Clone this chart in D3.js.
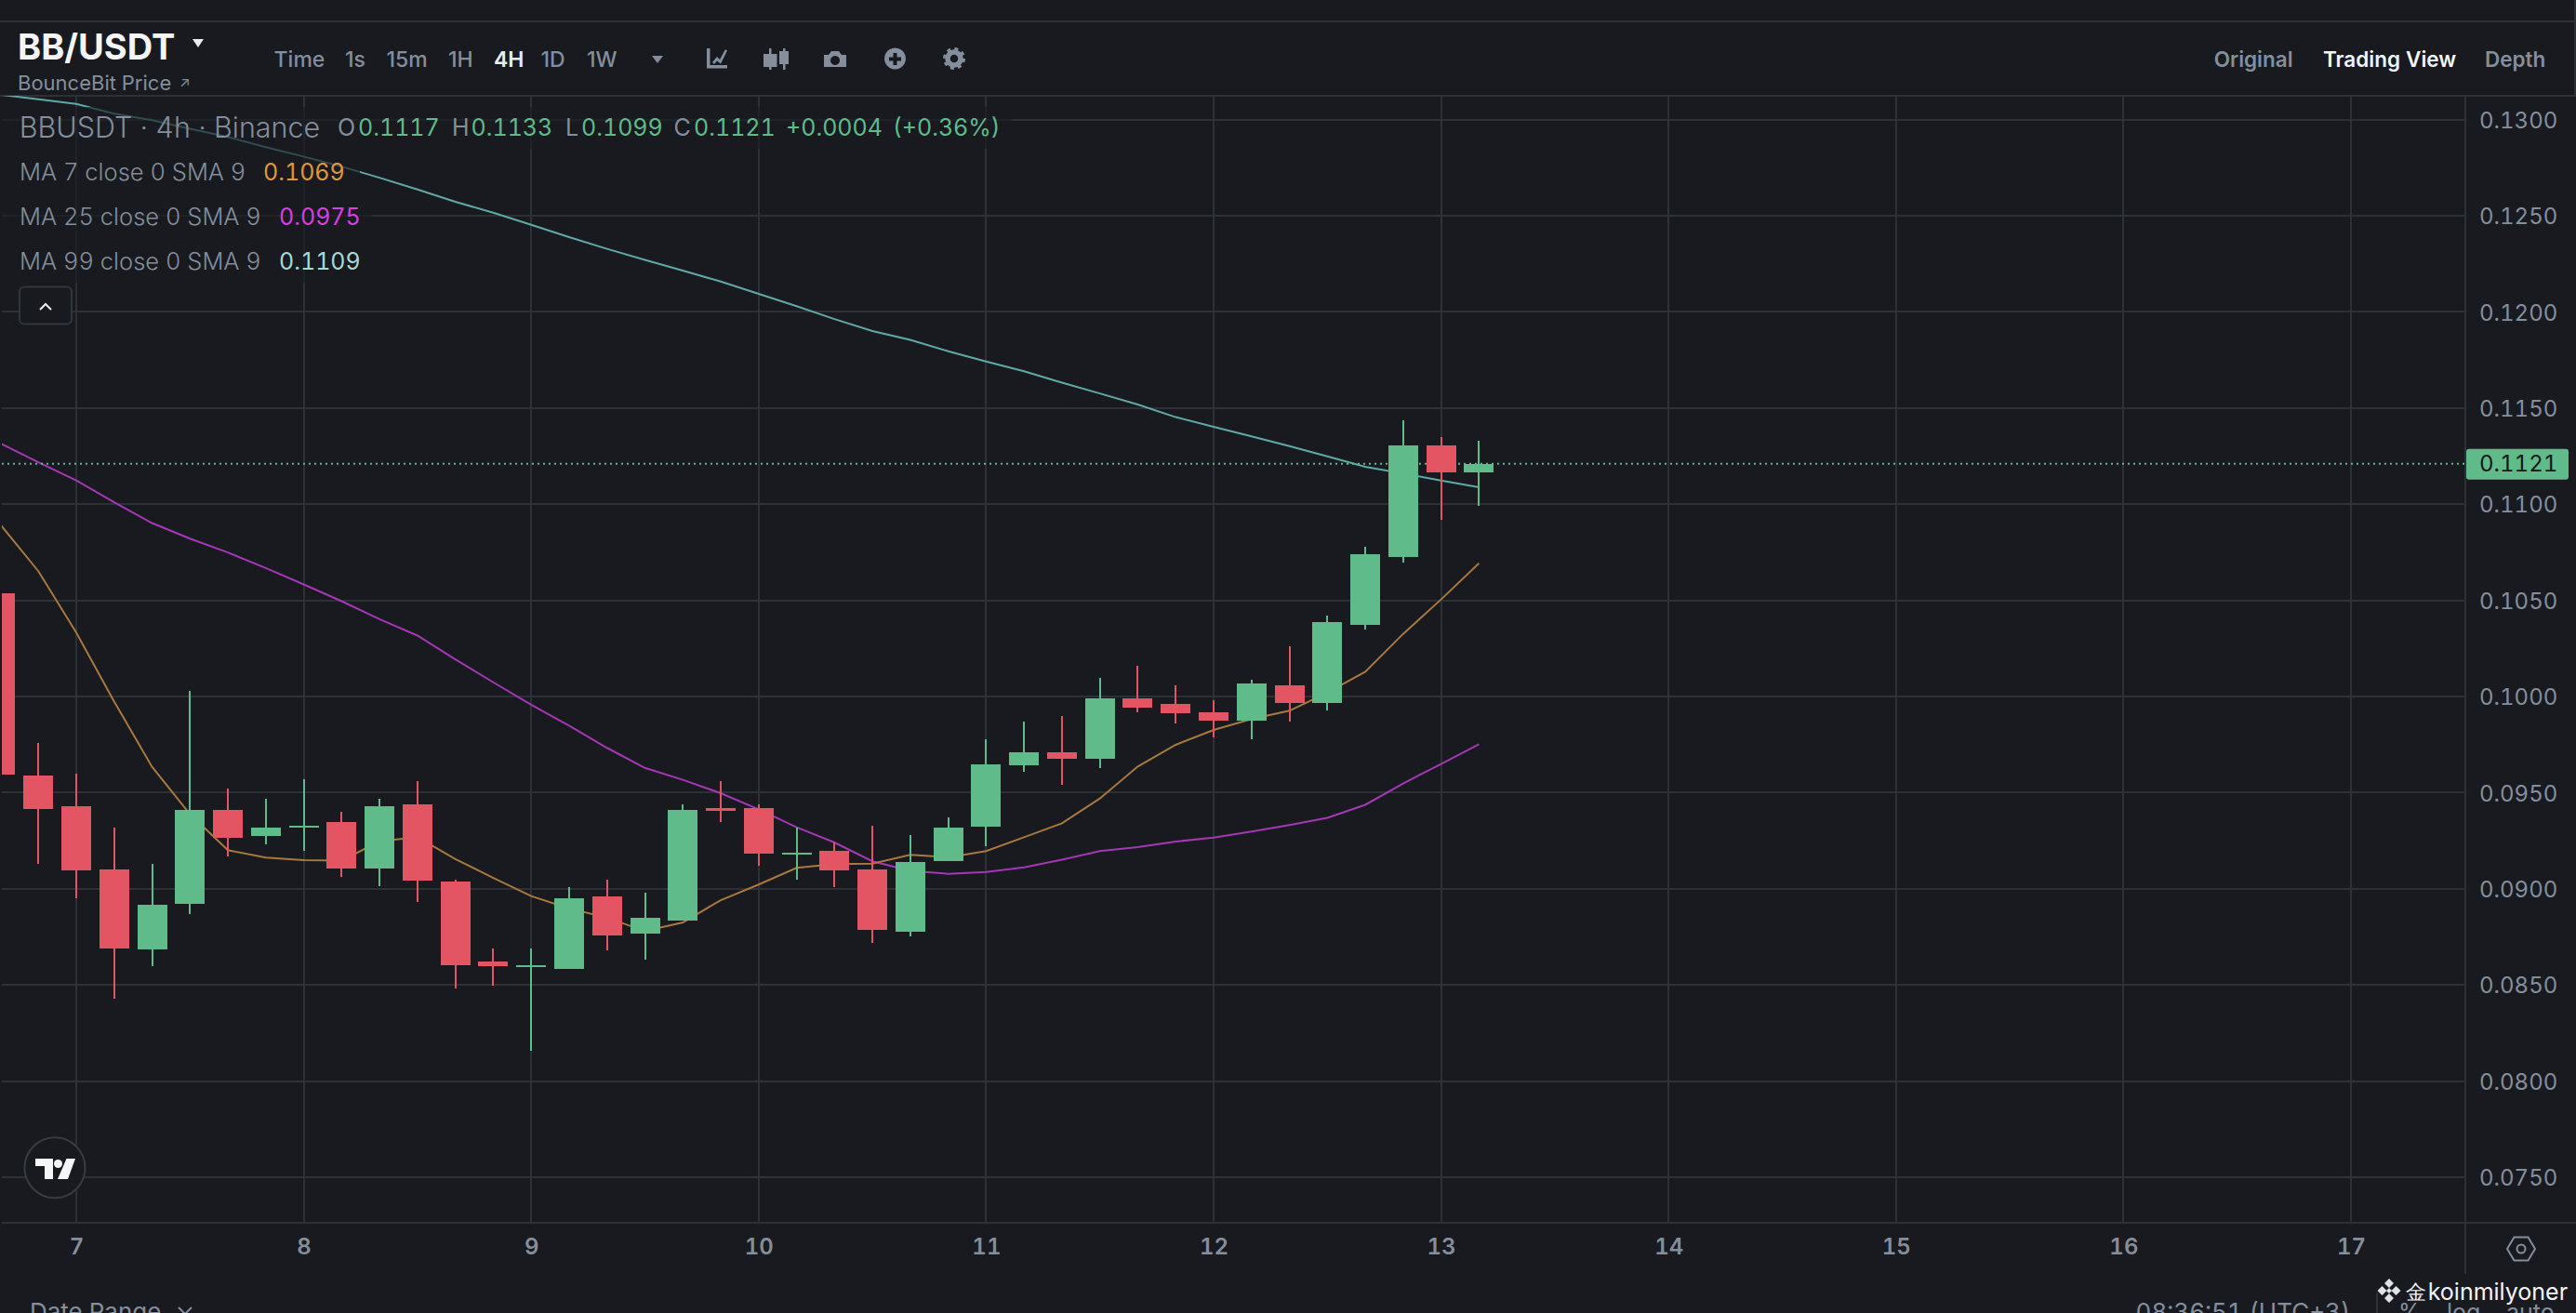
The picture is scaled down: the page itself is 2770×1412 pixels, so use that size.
<!DOCTYPE html>
<html>
<head>
<meta charset="utf-8">
<script src="https://cdn.jsdelivr.net/npm/d3@7/dist/d3.min.js"></script>
<style>
html,body{margin:0;padding:0;background:#181a20;overflow:hidden}
svg{display:block}
text{font-family:Inter,"Noto Sans",sans-serif;font-feature-settings:"tnum" 1;font-variant-numeric:tabular-nums}
text.prop{font-feature-settings:"tnum" 0;font-variant-numeric:normal}
</style>
</head>
<body>
<svg id="c" width="2770" height="1412"></svg>
<script>
// ---- data ----
const opens  = [.10537,.09588,.09429,.09099,.08683,.08924,.09408,.09274,.09325,.09345,.09104,.09439,.09037,.08621,.08598,.08582,.08959,.08766,.08833,.09418,.09418,.09184,.09196,.09099,.08775,.09143,.09322,.09641,.09708,.09675,.09991,.09962,.09918,.09875,.10058,.09967,.10372,.10725,.11305,.11165];
const highs  = [.10537,.09758,.09598,.09317,.09128,.10028,.0952,.09468,.09568,.094,.09468,.09559,.09047,.08688,.08688,.09007,.09046,.08978,.09438,.09558,.09438,.09317,.09239,.09326,.09278,.0937,.09776,.09868,.09897,.10095,.1016,.10058,.09981,.10087,.10262,.10421,.10778,.11436,.11349,.1133];
const lows   = [.09595,.09128,.0895,.08427,.086,.08867,.09167,.0923,.09196,.0906,.09016,.0893,.0848,.08498,.0816,.08582,.08679,.0863,.08833,.09346,.09119,.09046,.09007,.08717,.08751,.09143,.0922,.09607,.09539,.09626,.09918,.0986,.09788,.09778,.0987,.09928,.10348,.10696,.10918,.1099];
const closes = [.09595,.09413,.09094,.08692,.08919,.09408,.09264,.09317,.09329,.09104,.09429,.09042,.08605,.08596,.08602,.08949,.08756,.08848,.09409,.09404,.09181,.09188,.09094,.08785,.09138,.09317,.09646,.09708,.09675,.09989,.09942,.09913,.09875,.10068,.09967,.10387,.10739,.11305,.11165,.1121];
const ma7  = [.10894,.10652,.10333,.09974,.09634,.09388,.09201,.09162,.09149,.09147,.09247,.09269,.09155,.09057,.08962,.08898,.0885,.0878,.08825,.08941,.09022,.09109,.09128,.09131,.09177,.09164,.09196,.09268,.09341,.0947,.09636,.09749,.09826,.09883,.09926,.1002,.10129,.10326,.10505,.10693];
const ma25 = [.11316,.11218,.11124,.1101,.10902,.10821,.10749,.10668,.10583,.10496,.10402,.10317,.10193,.10074,.09957,.09849,.09733,.09629,.09567,.09497,.09413,.0932,.09241,.09143,.09094,.09078,.09088,.09112,.09152,.09196,.09217,.09246,.09266,.09298,.09332,.09369,.09437,.09548,.09649,.09752];
const ma99 = [.1313,.13106,.13082,.13031,.12997,.12953,.1291,.12857,.12808,.12756,.12698,.12637,.12573,.12516,.12453,.12389,.12328,.12271,.12215,.12158,.12094,.1203,.11963,.11901,.11855,.11796,.11742,.11692,.11632,.11576,.11519,.11453,.11403,.11353,.11302,.11249,.11195,.1116,.11123,.11088];
const priceTicks = [.13,.125,.12,.115,.11,.105,.1,.095,.09,.085,.08,.075];
const dayTicks = [7,8,9,10,11,12,13,14,15,16,17];
const lastPrice = .1121;
const firstCandleDay = 7 - 2/6;
const candlesPerDay = 6;
const intervals = ["Time","1s","15m","1H","4H","1D","1W"];
const intervalX = [294.6,371,415.5,482,531,581.5,631];
const viewTabs = ["Original","Trading View","Depth"];
const viewTabX = [2380.7,2498,2672];
const maLabels = ["MA 7 close 0 SMA 9","MA 25 close 0 SMA 9","MA 99 close 0 SMA 9"];
const maValues = ["0.1069","0.0975","0.1109"];

// ---- colours ----
const BG="#181a20", GRID="#2b3136", UP="#5fbb8a", DOWN="#e45563", GREY="#848e9c", WHITE="#eaecef";

const svg = d3.select("#c");
const plot = {l:2, r:2651, t:103, b:1314};
const x = d3.scaleLinear().domain([7,17]).range([82,2528]);
const y = d3.scaleLinear().domain([.13,.075]).range([128.7,1266]);
const dayOf = i => firstCandleDay + i/candlesPerDay;
const BODY = 32;

svg.append("defs").append("clipPath").attr("id","plot").append("rect")
  .attr("x",plot.l).attr("y",plot.t).attr("width",plot.r-plot.l).attr("height",plot.b-plot.t);

// grid
const grid = svg.append("g").attr("clip-path","url(#plot)").attr("shape-rendering","crispEdges")
  .attr("stroke",GRID).attr("stroke-width",2);
grid.selectAll(".h").data(priceTicks).join("line").attr("x1",plot.l).attr("x2",plot.r).attr("y1",d=>y(d)).attr("y2",d=>y(d));
grid.selectAll(".v").data(dayTicks).join("line").attr("y1",plot.t).attr("y2",plot.b).attr("x1",d=>x(d)).attr("x2",d=>x(d));

// frame lines
const frame = svg.append("g").attr("shape-rendering","crispEdges").attr("stroke",GRID).attr("stroke-width",2);
[[0,22.7,2770,22.7],[0,102.7,2770,102.7],[2,1314.7,2770,1314.7],[2651,103,2651,1370],[2769,0,2769,103]]
 .forEach(l=>frame.append("line").attr("x1",l[0]).attr("y1",l[1]).attr("x2",l[2]).attr("y2",l[3]));

const chart = svg.append("g").attr("clip-path","url(#plot)");

// moving averages
const lineGen = d3.line().x((d,i)=>x(dayOf(i))).y(d=>y(d));
[[ma99,"#5fa9a6"],[ma25,"#a536b6"],[ma7,"#a8783c"]].forEach(([s,c])=>{
  chart.append("path").attr("d",lineGen(s)).attr("fill","none").attr("stroke",c).attr("stroke-width",2);
});

// last price dotted line
chart.append("line").attr("x1",plot.l).attr("x2",plot.r).attr("y1",y(lastPrice)).attr("y2",y(lastPrice))
  .attr("stroke",UP).attr("stroke-width",2).attr("stroke-dasharray","2 4");

// candles
const idx = d3.range(opens.length);
const g = chart.append("g").attr("shape-rendering","crispEdges");
g.selectAll(".w").data(idx).join("line")
  .attr("x1",i=>x(dayOf(i))).attr("x2",i=>x(dayOf(i)))
  .attr("y1",i=>y(highs[i])).attr("y2",i=>y(lows[i]))
  .attr("stroke-width",2)
  .attr("stroke",i=>closes[i]>=opens[i]?UP:DOWN);
g.selectAll(".b").data(idx).join("rect")
  .attr("x",i=>x(dayOf(i))-BODY/2).attr("width",BODY)
  .attr("y",i=>y(Math.max(opens[i],closes[i])))
  .attr("height",i=>Math.max(2,Math.abs(y(opens[i])-y(closes[i]))))
  .attr("fill",i=>closes[i]>=opens[i]?UP:DOWN);

// axes
const ya = svg.append("g").attr("transform",`translate(2651,0)`)
  .call(d3.axisRight(y).tickValues(priceTicks).tickFormat(d3.format(".4f")).tickSize(0).tickPadding(15));
ya.select(".domain").remove();
ya.selectAll("text").attr("font-size",24).attr("font-family","Inter").attr("fill",GREY).attr("dy","0.36em");
const xa = svg.append("g").attr("transform",`translate(0,1314.7)`)
  .call(d3.axisBottom(x).tickValues(dayTicks).tickFormat(d3.format("d")).tickSize(0).tickPadding(17));
xa.select(".domain").remove();
xa.selectAll("text").attr("font-size",24).attr("font-weight",600).attr("font-family","Inter").attr("fill",GREY);

// last-price tag
svg.append("rect").attr("x",2652).attr("y",y(lastPrice)-16).attr("width",110).attr("height",33).attr("rx",3).attr("fill",UP);
svg.append("text").attr("x",2666).attr("y",y(lastPrice)).attr("dy","0.36em").attr("font-size",24).attr("fill","#14161a").text(d3.format(".4f")(lastPrice));

// legend scrims (legend sits on a translucent panel)
[[2,115,1086,45],[2,160,385,48],[2,208,398,48],[2,256,398,48]].forEach(r=>{
  svg.append("rect").attr("x",r[0]).attr("y",r[1]).attr("width",r[2]).attr("height",r[3]).attr("fill",BG).attr("opacity",.65);
});

function txt(t,xp,yp,size,fill,weight,anchor){
  return svg.append("text").attr("x",xp).attr("y",yp).attr("dy","0.36em").attr("font-size",size)
    .attr("fill",fill).attr("font-weight",weight||400).attr("text-anchor",anchor||"start").text(t);
}

// header
txt("BB/USDT",19,50,38,"#f4f5f6",700);
txt("BounceBit Price",19,89,22,GREY,400);
txt("↗",193,89,15,GREY,400);
svg.append("path").attr("d","M207 42h12l-6 9z").attr("fill","#eaecef");
intervals.forEach((t,i)=>txt(t,intervalX[i],64,23,t==="4H"?WHITE:GREY,t==="4H"?600:500).attr("class","prop"));
svg.append("path").attr("d","M701 60h12l-6 8z").attr("fill",GREY);

// toolbar icons
const ic = svg.append("g").attr("fill",GREY).attr("stroke","none");
ic.append("path").attr("d","M760 52h3.500v18h18.500v3.500h-22zM766 67l5-6 3 3 6-11 2 1.500-7 14-4-3-3 3.500z");
ic.append("path").attr("d","M821 58h6v-6h2.500v6h6v14h-6v3h-2.500v-3h-6zM838 55h4v-3h2.500v3h3.500v14h-3.500v6h-2.500v-6h-4z");
ic.append("path").attr("fill-rule","evenodd").attr("d","M886 59h5l3-4h8l3 4h5v13h-24zM898 60a5 5 0 1 0 .01 0z");
ic.append("path").attr("fill-rule","evenodd").attr("d","M962.500 51.500a11.500 11.500 0 1 0 .01 0zM960.500 57h4v4.500h4.500v4h-4.500v4.500h-4v-4.500h-4.500v-4h4.500z");
const gear = svg.append("g").attr("fill","none").attr("stroke",GREY);
gear.append("circle").attr("cx",1026).attr("cy",63).attr("r",7).attr("stroke-width",5.500);
gear.append("circle").attr("cx",1026).attr("cy",63).attr("r",10.500).attr("stroke-width",3).attr("stroke-dasharray","4 4.250");

// right tabs
viewTabs.forEach((t,i)=>txt(t,viewTabX[i],64,22.5,t==="Trading View"?"#f4f5f6":GREY,600));

// legend row
txt("BBUSDT · 4h · Binance",20.7,137,30.5,GREY,300);
[["O",363,GREY],["0.1117",385,UP],["H",486,GREY],["0.1133",506.5,UP],["L",608,GREY],["0.1099",625,UP],["C",724.6,GREY],["0.1121",746,UP],["+0.0004",845,UP],["(+0.36%)",960,UP]]
  .forEach(a=>txt(a[0],a[1],137,25,a[2],400));
maLabels.forEach((t,i)=>txt(t,21,185+48*i,25.5,GREY,300));
txt(maValues[0],283,185,25,"#e0973a",400);
txt(maValues[1],300,233,25,"#d63ee0",400);
txt(maValues[2],300,281,25,"#a6d9d3",400);

// collapse button
svg.append("rect").attr("x",21).attr("y",308.500).attr("width",56).attr("height",40).attr("rx",5).attr("fill",BG).attr("stroke","#2f353c").attr("stroke-width",2);
svg.append("path").attr("d","M43 333l6-6 6 6").attr("fill","none").attr("stroke","#eaecef").attr("stroke-width",2);

// TradingView badge
svg.append("circle").attr("cx",59).attr("cy",1255.7).attr("r",32.500).attr("fill",BG).attr("stroke","#363c42").attr("stroke-width",2);
const tv = svg.append("g").attr("fill","#f4f5f6");
tv.append("path").attr("d","M38 1246h19v22h-9v-14h-10z");
tv.append("circle").attr("cx",62.500).attr("cy",1251.500).attr("r",4.500);
tv.append("path").attr("d","M71.500 1246h9.500l-8 22h-11z");

// settings hex bottom right
svg.append("path").attr("d","M2696 1343l7.500-12.500h15l7.500 12.500-7.500 12.500h-15z").attr("fill","none").attr("stroke",GREY).attr("stroke-width",2);
svg.append("circle").attr("cx",2711).attr("cy",1343).attr("r",4.500).attr("fill","none").attr("stroke",GREY).attr("stroke-width",2);

// footer (cut by the window)
txt("Date Range",32,1411,26,GREY,400);
svg.append("path").attr("d","M192 1406l7 7 7-7").attr("fill","none").attr("stroke",GREY).attr("stroke-width",2);
txt("08:36:51 (UTC+3)",2296.6,1411,26,GREY,400);
svg.append("line").attr("x1",2556).attr("x2",2556).attr("y1",1390).attr("y2",1412).attr("stroke",GRID).attr("stroke-width",2);
txt("%",2579,1411,25,GREY,400);
txt("log",2631,1411,25,GREY,400);
txt("auto",2695,1411,25,GREY,400);

// watermark
svg.append("path").attr("fill-rule","evenodd").attr("d","M2569 1375l5 5-5 5-5-5zM2561.500 1383l5 5-5 5-5-5zM2576.500 1383l5 5-5 5-5-5zM2569 1391l5 5-5 5-5-5zM2569 1385l3 3-3 3-3-3z").attr("fill","#dfe3e6");
svg.append("text").attr("x",2587).attr("y",1389).attr("dy","0.36em").attr("font-size",22).attr("fill","#f4f5f6").attr("font-family","Noto Sans CJK SC").text("金");
txt("koinmilyoner",2610.7,1389,25,"#f4f5f6",400);
</script>
</body>
</html>
